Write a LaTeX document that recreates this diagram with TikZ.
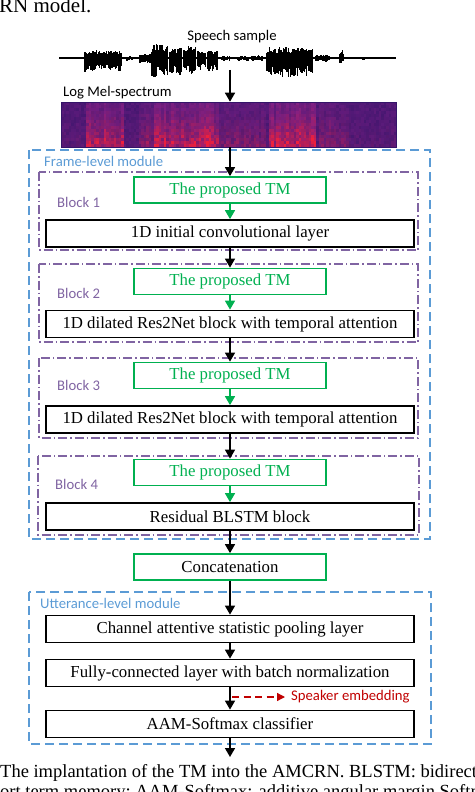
\documentclass[tikz,border=0pt]{standalone}
\usepackage{fontspec}
\setmainfont{Liberation Serif}
\newfontfamily\calib{Carlito}
\usetikzlibrary{arrows.meta}

\definecolor{tmgreen}{RGB}{0,176,80}
\definecolor{modblue}{RGB}{91,155,213}
\definecolor{blkpurple}{RGB}{128,100,162}
\definecolor{embred}{RGB}{192,0,0}
\definecolor{specbase}{RGB}{120,32,138}
\definecolor{specdark}{RGB}{52,20,105}
\definecolor{specred}{RGB}{238,32,60}

% rough energy of the speech over x, for the spectrum colours
\pgfmathdeclarefunction{specE}{1}{%
  \pgfmathparse{0.08+0.75*(#1>84)*(#1<122)+0.35*(#1>138)*(#1<152)+0.9*(#1>152)*(#1<218)+0.25*(#1>218)*(#1<266)+0.85*(#1>266)*(#1<316)+0.3*(#1>316)*(#1<348)}}

\tikzset{
  tmbox/.style={draw=tmgreen, line width=1.8pt, text=tmgreen, minimum width=192pt,
    minimum height=26pt, inner sep=0pt, font=\fontsize{16.8}{18}\selectfont},
  catbox/.style={tmbox, text=black},
  layerbox/.style={draw=black, line width=1.8pt, minimum width=368pt,
    minimum height=27pt, inner sep=0pt, font=\fontsize{16.8}{18}\selectfont},
  modbox/.style={draw=modblue, line width=1.1pt, dash pattern=on 9pt off 5pt},
  blkbox/.style={draw=blkpurple, line width=1.1pt, dash pattern=on 9pt off 3pt on 1.5pt off 3pt},
  sflabel/.style={font=\calib\fontsize{14.7}{16}\selectfont, inner sep=0pt},
  flow/.style={line width=1.6pt, -{Triangle[length=9pt,width=10pt]}},
  greenflow/.style={flow, draw=tmgreen},
  embarrow/.style={draw=embred, line width=1.3pt, dash pattern=on 7pt off 4.5pt,
    -{Triangle[length=8pt,width=8pt]}},
  captext/.style={font=\fontsize{18.5}{20}\selectfont, inner sep=0pt, anchor=base west},
}

\begin{document}
\begin{tikzpicture}[x=1pt, y=-1pt]
\useasboundingbox (0,0) rectangle (474,792);

% caption fragments
\node[captext, font=\fontsize{21}{22}\selectfont] (captop) at (-1,13) {RN model.};
\node[captext] (cap1) at (0,777) {The implantation of the TM into the AMCRN. BLSTM: bidirect};
\node[captext] (cap2) at (0,797) {ort term memory; AAM-Softmax: additive angular margin Softma};

% speech sample
\node[sflabel] (speech) at (232,37) {Speech sample};
\pgfmathsetseed{11}
\draw[line width=1.6pt] (59,58) -- (396,58);
\foreach \s/\e/\u/\d in {85/121/8/14, 127/133/2/3, 140/150/4/6, 152/168/14/19,
  170/182/11/17, 184/196/12/16, 198/206/7/12, 208/217/9/14, 222/230/2/3,
  238/248/2/3, 252/262/3/3, 267/292/11/19, 292/313/10/18, 316/330/3/4,
  340/344/8/5, 355/365/1.5/2}{
  \pgfmathtruncatemacro\n{(\e-\s)/0.9}
  \foreach \i in {0,...,\n}{
    \pgfmathsetmacro\wx{\s+0.9*\i}
    \pgfmathsetmacro\up{\u*(0.45+0.55*rnd)}
    \pgfmathsetmacro\dn{\d*(0.45+0.55*rnd)}
    \fill (\wx-0.7,58-\up) rectangle (\wx+0.7,58+\dn);
  }
}
\coordinate (wavebot) at (230,70);

% log mel spectrum
\node[sflabel, anchor=west] (mellabel) at (63,93) {Log Mel-spectrum};
\begin{scope}
\clip (61,102) rectangle (396,147);
\fill[specbase] (61,102) rectangle (396,147);
\foreach \cx in {61,63.5,...,394}{
  \pgfmathsetmacro\en{specE(\cx)*(0.5+0.7*rnd)}
  \foreach \k in {0,...,14}{
    \pgfmathtruncatemacro\dk{min(100,30*rnd+50*(1-min(1,\en)))}
    \pgfmathtruncatemacro\nh{100-min(100,115*\en*(0.08+0.92*(\k/14)^1.7)*(0.25+0.9*rnd))}
    \fill[specdark!\dk!specbase!\nh!specred] (\cx,102+3*\k) rectangle ++(2.8,3.3);
  }
}
\end{scope}
\node[draw=specdark, line width=0.6pt, minimum width=335pt, minimum height=45pt,
  inner sep=0pt] (spec) at (228.5,124.5) {};

% frame-level module
\draw[modbox] (29,150) rectangle (430,539);
\node[sflabel, text=modblue, anchor=west] (framelabel) at (44,161) {Frame-level module};

\draw[blkbox] (39,172) rectangle (418,250);
\draw[blkbox] (39,264) rectangle (418,342);
\draw[blkbox] (39,358) rectangle (418,438);
\draw[blkbox] (38,456) rectangle (419,535);
\node[sflabel, text=blkpurple, anchor=west] (blk1) at (57,202) {Block 1};
\node[sflabel, text=blkpurple, anchor=west] (blk2) at (57,293) {Block 2};
\node[sflabel, text=blkpurple, anchor=west] (blk3) at (57,385) {Block 3};
\node[sflabel, text=blkpurple, anchor=west] (blk4) at (55,484) {Block 4};

\node[tmbox] (tm1) at (230,190) {The proposed TM};
\node[layerbox] (conv) at (230,233.5) {1D initial convolutional layer};
\node[tmbox] (tm2) at (230,281.5) {The proposed TM};
\node[layerbox] (res1) at (230,324) {1D dilated Res2Net block with temporal attention};
\node[tmbox] (tm3) at (230,375.5) {The proposed TM};
\node[layerbox] (res2) at (230,419.5) {1D dilated Res2Net block with temporal attention};
\node[tmbox] (tm4) at (230,472.5) {The proposed TM};
\node[layerbox] (lstm) at (230,516.5) {Residual BLSTM block};

\node[catbox] (concat) at (230,567) {Concatenation};

% utterance-level module
\draw[modbox] (29,592) rectangle (431,744);
\node[sflabel, text=modblue, anchor=west] (uttlabel) at (40,603) {Utterance-level module};
\node[layerbox] (pool) at (230,629) {Channel attentive statistic pooling layer};
\node[layerbox] (fc) at (230,673) {Fully-connected layer with batch normalization};
\node[layerbox] (aam) at (230,724) {AAM-Softmax classifier};
\coordinate (outpt) at (230,757);

% arrows
\draw[flow] (wavebot) -- (spec.north -| wavebot);
\draw[flow] (spec.south -| tm1.north) -- (tm1.north);
\draw[greenflow] (tm1.south) -- (conv.north);
\draw[flow] (conv.south) -- (tm2.north);
\draw[greenflow] (tm2.south) -- (res1.north);
\draw[flow] (res1.south) -- (tm3.north);
\draw[greenflow] (tm3.south) -- (res2.north);
\draw[flow] (res2.south) -- (tm4.north);
\draw[greenflow] (tm4.south) -- (lstm.north);
\draw[flow] (lstm.south) -- (concat.north);
\draw[flow] (concat.south) -- (pool.north);
\draw[flow] (pool.south) -- (fc.north);
\draw[flow] (fc.south) -- (aam.north);
\draw[flow] (aam.south) -- (outpt);

\node[sflabel, text=embred, anchor=west] (emb) at (291,697) {Speaker embedding};
\coordinate (embstart) at (232,697);
\draw[embarrow, shorten >=6pt] (embstart) -- (emb.west);
\end{tikzpicture}
\end{document}
